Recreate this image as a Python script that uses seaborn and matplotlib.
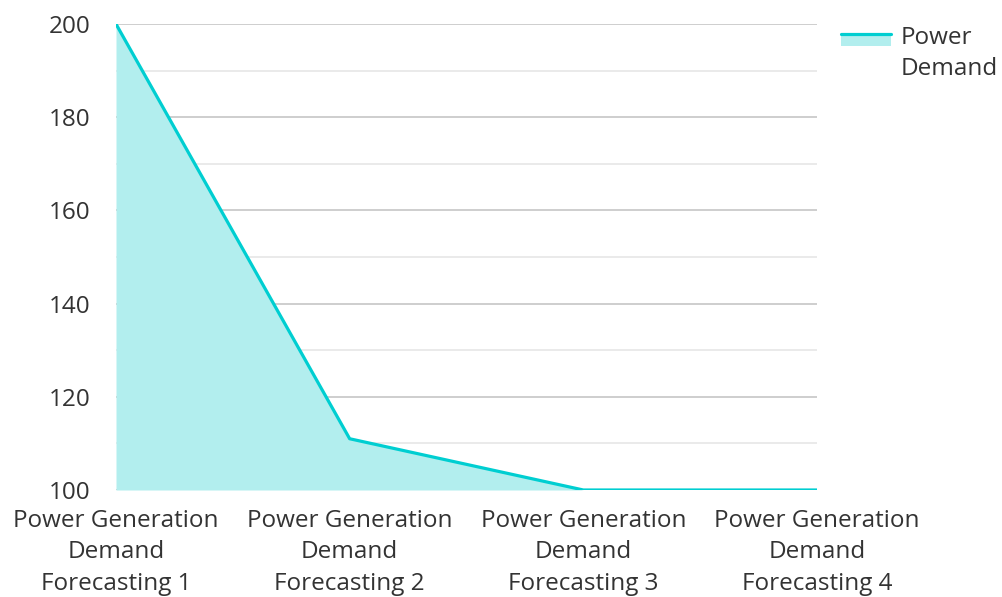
import matplotlib
matplotlib.use("Agg")
import matplotlib.pyplot as plt
import seaborn as sns
import pandas as pd
from matplotlib.patches import Rectangle
from matplotlib.lines import Line2D
from matplotlib.ticker import MultipleLocator

categories = ["Power Generation\nDemand\nForecasting 1",
              "Power Generation\nDemand\nForecasting 2",
              "Power Generation\nDemand\nForecasting 3",
              "Power Generation\nDemand\nForecasting 4"]
demand = [200, 111, 100, 100]
series_name = "Power\nDemand"

line_color = "#00CED1"
fill_color = "#B2EEEE"
fs = 17.5

sns.set_style("white")
plt.rcParams['font.family'] = ['Open Sans', 'DejaVu Sans']

df = pd.DataFrame({"x": range(len(categories)), "y": demand})

fig = plt.figure(figsize=(10.03, 5.97), dpi=100)
ax = fig.add_axes([116/1003, 1-490/597, (817-116)/1003, (490-24)/597])

ax.fill_between(df["x"], 100, df["y"], color=fill_color, lw=0, zorder=2)
sns.lineplot(data=df, x="x", y="y", ax=ax, color=line_color, lw=2.3, zorder=3)

ax.set_xlim(0, 3)
ax.set_ylim(100, 200)
ax.yaxis.set_major_locator(MultipleLocator(20))
ax.yaxis.set_minor_locator(MultipleLocator(10))
ax.grid(which="major", axis="y", color="#c6c6c6", lw=1.2, zorder=1)
ax.grid(which="minor", axis="y", color="#e6e6e6", lw=1.2, zorder=1)
ax.set_axisbelow(True)
ax.set_xticks(range(len(categories)))
ax.set_xticklabels(categories, fontsize=fs, color="#333333", linespacing=1.42)
ax.tick_params(axis="y", which="major", labelsize=fs, labelcolor="#333333",
               length=2, color="#c6c6c6", pad=16.5)
ax.tick_params(axis="y", which="minor", length=2, color="#e6e6e6")
ax.tick_params(axis="x", length=0, pad=13.5)
ax.set_xlabel("")
ax.set_ylabel("")
for s in ax.spines.values():
    s.set_visible(False)


class AreaHandler:
    def legend_artist(self, legend, orig_handle, fontsize, handlebox):
        x0, y0 = handlebox.xdescent, handlebox.ydescent
        w, h = handlebox.width, handlebox.height
        yl = y0 + 0.5*h + 14.5
        tr = handlebox.get_transform()
        rect = Rectangle((x0, yl - 9.0), w, 8.2, facecolor=fill_color, lw=0, transform=tr)
        ln = Line2D([x0, x0 + w], [yl, yl], color=line_color, lw=2.3, transform=tr)
        handlebox.add_artist(rect)
        handlebox.add_artist(ln)
        return rect


proxy = Rectangle((0, 0), 1, 1)
leg = fig.legend([proxy], [series_name], handler_map={Rectangle: AreaHandler()},
                 loc="upper left", bbox_to_anchor=(819/1003, 1-4/597), frameon=False,
                 handlelength=2.05, handletextpad=0.41,
                 prop={"size": fs}, labelcolor="#333333")
for t in leg.get_texts():
    t.set_linespacing(1.4)

fig.savefig("out.png", dpi=100)
